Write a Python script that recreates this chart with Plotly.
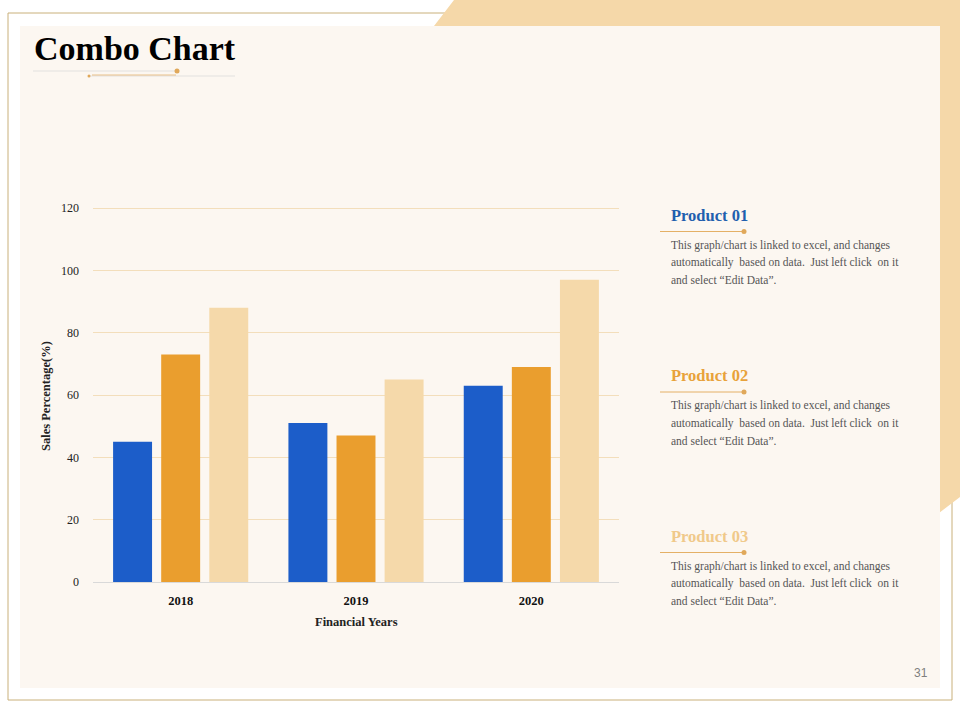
import plotly.graph_objects as go

years = ["2018", "2019", "2020"]
product01 = [45, 51, 63]
product02 = [73, 47, 69]
product03 = [88, 65, 97]
y_ticks = [0, 20, 40, 60, 80, 100, 120]
series_names = ["Product 01", "Product 02", "Product 03"]
series_colors = ["#1C5DC9", "#EA9E2E", "#F5D9AA"]
heading_colors = ["#1F5FAE", "#E8A23A", "#F0C98A"]
body_lines = ["This graph/chart is linked to excel, and changes",
              "automatically  based on data.  Just left click  on it",
              "and select “Edit Data”."]

W, H = 960, 720
SERIF = "Liberation Serif, Times New Roman, serif"
Y_MAX = 120.6

def px(x):
    return x / W

def py(y):
    return 1 - y / H

fig = go.Figure()
for name, vals, col in zip(series_names, [product01, product02, product03], series_colors):
    fig.add_trace(go.Bar(x=years, y=vals, name=name, marker=dict(color=col, line=dict(width=0)),
                         showlegend=False))

shapes = []
shapes.append(dict(type="rect", xref="paper", yref="paper", x0=px(8), x1=px(952), y0=py(700), y1=py(13),
                   line=dict(color="#C9B07A", width=1), fillcolor="rgba(0,0,0,0)", layer="below"))
shapes.append(dict(type="path", xref="paper", yref="paper",
                   path=f"M {px(454)},{py(0)} L {px(960)},{py(0)} L {px(960)},{py(497)} L {px(939)},{py(513)} L {px(939)},{py(26)} L {px(434)},{py(26)} Z",
                   fillcolor="#F5D8A9", line=dict(width=0), layer="below"))
shapes.append(dict(type="rect", xref="paper", yref="paper", x0=px(20), x1=px(940), y0=py(688), y1=py(26),
                   fillcolor="#FCF7F1", line=dict(width=0), layer="below"))
shapes.append(dict(type="line", xref="paper", yref="paper", x0=px(33), x1=px(177), y0=py(71), y1=py(71),
                   line=dict(color="#DCDCDC", width=0.8), layer="below"))
shapes.append(dict(type="line", xref="paper", yref="paper", x0=px(89), x1=px(235), y0=py(76), y1=py(76),
                   line=dict(color="#DCDCDC", width=0.8), layer="below"))
shapes.append(dict(type="line", xref="paper", yref="paper", x0=px(92), x1=px(176), y0=py(75), y1=py(75),
                   line=dict(color="#E3B36F", width=0.8), layer="below"))
shapes.append(dict(type="circle", xref="paper", yref="paper", x0=px(174.5), x1=px(179.5), y0=py(73.5), y1=py(68.5),
                   fillcolor="#E0A85A", line=dict(width=0), layer="below"))
shapes.append(dict(type="circle", xref="paper", yref="paper", x0=px(87.5), x1=px(90.5), y0=py(77.5), y1=py(74.5),
                   fillcolor="#E0A85A", line=dict(width=0), layer="below"))

annotations = []
annotations.append(dict(text="<b>Combo Chart</b>", xref="paper", yref="paper", x=px(32), y=py(49),
                        xanchor="left", yanchor="middle", showarrow=False,
                        font=dict(family=SERIF, size=34, color="#000000")))

heading_y = [215, 375.5, 536]
for name, hy, hc in zip(series_names, heading_y, heading_colors):
    annotations.append(dict(text=f"<b>{name}</b>", xref="paper", yref="paper", x=px(669), y=py(hy),
                            xanchor="left", yanchor="middle", showarrow=False,
                            font=dict(family=SERIF, size=16.5, color=hc)))
    ly = hy + 16.5
    shapes.append(dict(type="line", xref="paper", yref="paper", x0=px(660), x1=px(744), y0=py(ly), y1=py(ly),
                       line=dict(color="#E4B066", width=1), layer="below"))
    shapes.append(dict(type="circle", xref="paper", yref="paper", x0=px(741.5), x1=px(746.5), y0=py(ly + 2.5), y1=py(ly - 2.5),
                       fillcolor="#E0A85A", line=dict(width=0), layer="below"))
    for i, line in enumerate(body_lines):
        annotations.append(dict(text=line, xref="paper", yref="paper", x=px(669), y=py(hy + 30 + 17.5 * i),
                                xanchor="left", yanchor="middle", align="left", showarrow=False,
                                font=dict(family=SERIF, size=11.5, color="#555555")))

annotations.append(dict(text="<b>Sales Percentage(%)</b>", xref="paper", yref="paper", x=px(46), y=py(396),
                        xanchor="center", yanchor="middle", textangle=-90, showarrow=False,
                        font=dict(family=SERIF, size=12.5, color="#222222")))
annotations.append(dict(text="<b>Financial Years</b>", xref="paper", yref="paper", x=px(356), y=py(622),
                        xanchor="center", yanchor="middle", showarrow=False,
                        font=dict(family=SERIF, size=12.5, color="#222222")))
annotations.append(dict(text="31", xref="paper", yref="paper", x=px(921), y=py(673),
                        xanchor="center", yanchor="middle", showarrow=False,
                        font=dict(family="Liberation Sans, Arial, sans-serif", size=12, color="#7F7F7F")))

y_top = 582 - (582 - 208) * Y_MAX / 120

fig.update_layout(
    width=W, height=H, autosize=False,
    margin=dict(l=0, r=0, t=0, b=0, pad=0, autoexpand=False),
    paper_bgcolor="#FFFFFF", plot_bgcolor="rgba(0,0,0,0)",
    barmode="group", bargap=0.177, bargroupgap=0.19,
    shapes=shapes, annotations=annotations,
    xaxis=dict(domain=[px(93), px(619)], showgrid=False, showline=False, zeroline=False,
               tickfont=dict(family=SERIF, size=12.5, color="#111111"), ticks="",
               ticklabelstandoff=9, tickprefix="<b>", ticksuffix="</b>", fixedrange=True,
               automargin=False),
    yaxis=dict(domain=[py(582), py(y_top)], range=[0, Y_MAX], tickvals=y_ticks,
               showgrid=True, gridcolor="#F3DEBB", gridwidth=1,
               zeroline=True, zerolinecolor="#D9D9D9", zerolinewidth=1, showline=False,
               tickfont=dict(family=SERIF, size=12, color="#222222"), ticks="",
               ticklabelstandoff=13, fixedrange=True, automargin=False),
)

fig.write_html("out.html", config={"responsive": False, "displayModeBar": False})
